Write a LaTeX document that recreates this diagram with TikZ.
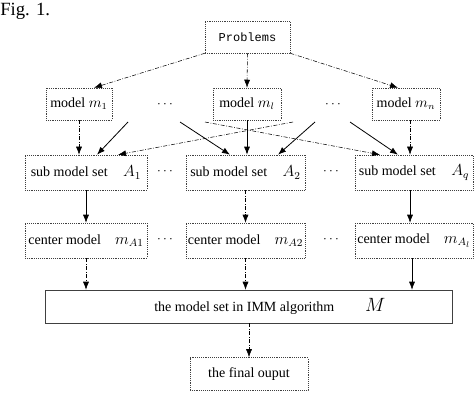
\documentclass[tikz,border=0pt]{standalone}
\usepackage{fontspec}
\setmainfont{Liberation Serif}
\newfontfamily\probfont{Liberation Mono}
\usetikzlibrary{arrows.meta,calc}
\begin{document}
\begin{tikzpicture}[x=0.75pt,y=-0.75pt]
        % Styles pour les boîtes et les flèches
        \tikzstyle{box} = [draw=black!75,densely dotted,inner sep=0pt,minimum height=24pt,font=\fontsize{10.5}{12}\selectfont]
        \tikzstyle{setbox} = [box,minimum height=26.25pt]
        \tikzstyle{arrow} = [semithick,->,>={Latex[length=6pt,width=4.5pt]}]
        \tikzstyle{arrowt} = [thin,->,>={Latex[length=6pt,width=4.5pt]}]
        \tikzstyle{arrowd} = [arrowt,dash pattern=on 3pt off 1.2pt on 0.6pt off 1.2pt]

        \useasboundingbox (0,0) rectangle (474,417);

        % Titre
        \node[anchor=base west,inner sep=0pt,font=\fontsize{14}{16}\selectfont] (fig) at (0,16) {Fig. 1.};

        % Problème et modèles
        \node[box,minimum width=63.75pt,font=\probfont\fontsize{9}{11}\selectfont] (prob) at (247.5,37) {Problems};
        \node[box,minimum width=49.5pt] (m1) at (79,104) {model $m_1$};
        \node[box,minimum width=51pt] (ml) at (247,104) {model $m_l$};
        \node[box,minimum width=51pt] (mn) at (406,104) {model $m_n$};

        % Sous-ensembles de modèles
        \node[setbox,minimum width=91.5pt] (A1) at (86,172.5) {sub model set\hspace{1.1em}{\large$A_1$}};
        \node[setbox,minimum width=89.25pt] (A2) at (245.5,172.5) {sub model set\hspace{1.1em}{\large$A_2$}};
        \node[setbox,minimum width=88.5pt] (Aq) at (414,172.5) {sub model set\hspace{1.1em}{\large$A_q$}};

        % Modèles centraux
        \node[setbox,minimum width=91.5pt] (c1) at (86,240.5) {center model\hspace{1em}{\large$m_{A1}$}};
        \node[setbox,minimum width=89.25pt] (c2) at (245.5,240.5) {center model\hspace{1em}{\large$m_{A2}$}};
        \node[setbox,minimum width=88.5pt] (cq) at (414,240.5) {center model\hspace{1em}{\large$m_{A_l}$}};

        % Ensemble IMM et sortie
        \node[box,solid,minimum width=305.25pt,minimum height=24.75pt] (imm) at (248.5,306.5) {\hspace*{32pt}the model set in IMM algorithm\hspace{2.2em}{\Large$M$}};
        \node[box,minimum width=88.5pt,minimum height=24.75pt] (fin) at (249,374) {the final ouput};

        % Points de suspension
        \foreach \x/\y/\n in {165/105/a,333/105/b,165/172/c,331/172/d,165/240/e,331/240/f}{
        \node (dots\n) at (\x,\y) {$\cdots$};}

        % Départs des flèches croisées
        \coordinate (s1) at (128,122);
        \coordinate (s2) at (180,122);
        \coordinate (s3) at (205,122);
        \coordinate (s4) at (293,122);
        \coordinate (s5) at (315,122);
        \coordinate (s6) at (350,122);
        \coordinate (mnb) at ($(mn.south)+(4,0)$);
        \coordinate (Aqb) at ($(Aq.south)+(-4,0)$);
        \coordinate (cqb) at ($(cq.south)+(-2,0)$);

        % Flèches du problème vers les modèles
        \draw[arrowd] (prob.south west) -- ($(m1.north)+(15,0)$);
        \draw[arrowd] (prob.south) -- (ml.north);
        \draw[arrowd] (prob.south east) -- ($(mn.north)+(-8,0)$);

        % Flèches des modèles vers les sous-ensembles
        \draw[arrowd] (m1.south) -- (m1.south |- A1.north);
        \draw[arrow] (s1) -- ($(A1.north)+(11,0)$);
        \draw[arrowd] (s4) -- ($(A1.north)+(32,0)$);
        \draw[arrow] (s2) -- ($(A2.north)+(-15.5,0)$);
        \draw[arrow] (ml.south) -- (ml.south |- A2.north);
        \draw[arrow] (s5) -- ($(A2.north)+(32.5,0)$);
        \draw[arrowd] (s3) -- ($(Aq.north)+(-34,0)$);
        \draw[arrow] (s6) -- ($(Aq.north)+(-16,0)$);
        \draw[arrowd] (mnb) -- (mnb |- Aq.north);

        % Flèches vers les modèles centraux
        \draw[arrowt] (A1) -- (c1);
        \draw[arrowd] (A2) -- (c2);
        \draw[arrowt] (Aqb) -- (Aqb |- cq.north);

        % Flèches vers l'ensemble IMM et la sortie
        \draw[arrowd] (c1.south) -- (c1.south |- imm.north);
        \draw[arrowd] (c2.south) -- (c2.south |- imm.north);
        \draw[arrowt] (cqb) -- (cqb |- imm.north);
        \draw[arrowd] (imm.south -| fin.north) -- (fin.north);

\end{tikzpicture}
\end{document}
